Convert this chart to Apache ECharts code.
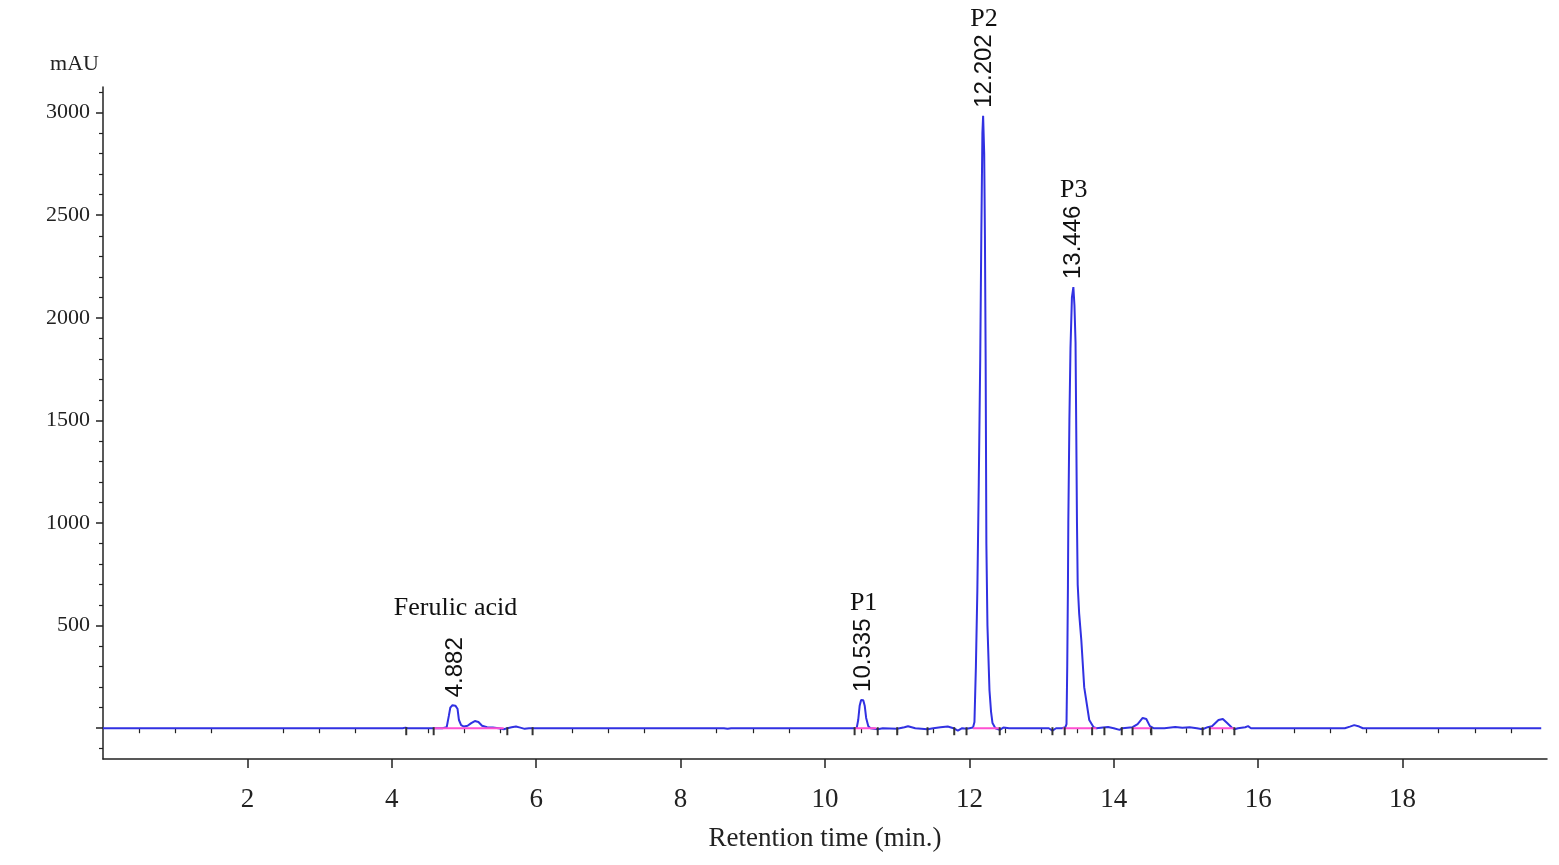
<!DOCTYPE html>
<html>
<head>
    <meta charset="utf-8">
    <title>HPLC chromatogram</title>
    <script src="https://cdn.jsdelivr.net/npm/echarts@6/dist/echarts.min.js"></script>
    <style>
        html, body { margin: 0; padding: 0; background: #fff; }
    </style>
</head>
<body>
    <div id="main" style="width: 1559px;height:865px;"></div>

    <script type="text/javascript">
        // detector trace, [retention time (min), absorbance (mAU)]
        var trace = [
            [0, 0], [4.15, 0], [4.19, 3], [4.22, 0], [4.55, 0], [4.70, 0],
            [4.76, 5], [4.79, 60], [4.81, 100], [4.84, 112], [4.88, 110], [4.91, 95],
            [4.93, 40], [4.96, 15], [5.00, 8], [5.05, 12], [5.10, 25], [5.15, 35],
            [5.20, 30], [5.25, 12], [5.32, 5], [5.40, 3], [5.48, 0], [5.55, -5],
            [5.60, 0], [5.66, 5], [5.72, 8], [5.78, 3], [5.84, -3], [5.90, 0],
            [8.60, 0], [8.65, -3], [8.70, 0],
            [10.40, 0], [10.44, 3], [10.46, 40], [10.48, 110], [10.50, 138], [10.53, 136],
            [10.55, 110], [10.57, 50], [10.60, 10], [10.63, 0], [10.73, -5], [10.80, 0],
            [11.00, -3], [11.10, 5], [11.15, 10], [11.20, 5], [11.25, 0], [11.42, -5],
            [11.50, 0], [11.60, 5], [11.70, 8], [11.78, 0], [11.84, -12], [11.90, 0],
            [11.96, -3], [12.00, 0], [12.05, 3], [12.07, 30], [12.09, 300], [12.11, 670],
            [12.13, 1200], [12.15, 1800], [12.165, 2400], [12.18, 2900], [12.19, 2985],
            [12.205, 2800], [12.215, 2400], [12.225, 1800], [12.235, 900], [12.25, 500],
            [12.278, 185], [12.30, 80], [12.32, 25], [12.36, 0],
            [12.42, -8], [12.47, 3], [12.55, 0], [13.10, 0], [13.15, -12], [13.20, 0],
            [13.28, 0], [13.33, 5], [13.345, 20], [13.355, 300], [13.365, 700], [13.37, 1000],
            [13.385, 1500], [13.40, 1850], [13.42, 2100], [13.44, 2150], [13.455, 2060],
            [13.47, 1880], [13.48, 1450], [13.49, 1000], [13.50, 700], [13.52, 560],
            [13.55, 430], [13.59, 200], [13.66, 40], [13.72, 5], [13.76, 0], [13.78, 6],
            [13.85, 4], [13.92, 6], [14.00, 0],
            [14.08, -8], [14.12, 0], [14.26, 5], [14.33, 20], [14.40, 50], [14.45, 45],
            [14.50, 10], [14.55, 0], [14.70, 0], [14.85, 6], [14.95, 2], [15.05, 5],
            [15.15, 0], [15.23, -5], [15.30, 5], [15.36, 10], [15.45, 40], [15.51, 45],
            [15.57, 25], [15.63, 5], [15.67, -5], [15.72, 0], [15.82, 5], [15.86, 10],
            [15.90, 0], [17.20, 0], [17.27, 8], [17.33, 15], [17.40, 8], [17.45, 0],
            [19.92, 0]
        ];

        // labelled peaks: retention time, apex height, name
        var peakTimes = [4.882, 10.535, 12.202, 13.446];
        var peakHeights = [112, 138, 2985, 2150];
        var peakNames = ['Ferulic acid', 'P1', 'P2', 'P3'];

        // integration baselines (start, end) and event marks
        var baselineSegs = [[4.58, 5.55], [10.41, 10.71], [12.05, 12.42], [13.29, 13.76], [14.26, 14.52], [15.33, 15.67]];
        var eventTimes = [4.20, 4.58, 5.60, 5.95, 10.41, 10.73, 11.00, 11.42, 11.79, 11.96, 12.42,
            13.15, 13.32, 13.70, 13.87, 14.11, 14.26, 14.52, 15.23, 15.33, 15.67];

        // axis ticks
        var xMajor = [2, 4, 6, 8, 10, 12, 14, 16, 18];
        var xMinor = [0.5, 1, 1.5, 2.5, 3, 3.5, 4.5, 5, 5.5, 6.5, 7, 7.5, 8.5, 9, 9.5, 10.5, 11, 11.5,
            12.5, 13, 13.5, 14.5, 15, 15.5, 16.5, 17, 17.5, 18.5, 19, 19.5];
        var yLabels = [500, 1000, 1500, 2000, 2500, 3000];
        var yMajor = [0, 500, 1000, 1500, 2000, 2500, 3000];
        var yMinor = [-100, 100, 200, 300, 400, 600, 700, 800, 900, 1100, 1200, 1300, 1400,
            1600, 1700, 1800, 1900, 2100, 2200, 2300, 2400, 2600, 2700, 2800, 2900, 3100];

        var myChart = echarts.init(document.getElementById('main'));

        var axisColor = '#222';
        var serif = 'Liberation Serif';

        var peakPoints = peakTimes.map(function (t, i) {
            return [t, peakHeights[i], peakNames[i]];
        });

        var baseData = [];
        baselineSegs.forEach(function (s) {
            baseData.push([s[0], 0], [s[1], 0], [s[1], '-']);
        });

        var option = {
            backgroundColor: '#fff',
            animation: false,
            grid: { left: 103, right: 12, top: 87, bottom: 106 },
            xAxis: [{
                type: 'value',
                min: 0,
                max: 20,
                position: 'bottom',
                axisLine: { onZero: false, lineStyle: { color: axisColor, width: 1.5 } },
                axisTick: { customValues: xMajor, length: 9, lineStyle: { color: axisColor, width: 1.5 } },
                axisLabel: { customValues: xMajor, margin: 27, color: '#222', fontFamily: serif, fontSize: 27 },
                splitLine: { show: false },
                name: 'Retention time (min.)',
                nameLocation: 'middle',
                nameGap: 66,
                nameTextStyle: { color: '#222', fontFamily: serif, fontSize: 27 }
            }, {
                type: 'value',
                min: 0,
                max: 20,
                position: 'bottom',
                offset: 0,
                axisLine: { show: false },
                axisTick: { customValues: xMinor, length: 5, lineStyle: { color: axisColor, width: 1.2 } },
                axisLabel: { show: false },
                splitLine: { show: false }
            }],
            yAxis: [{
                type: 'value',
                min: -150,
                max: 3125,
                position: 'left',
                axisLine: { show: true, onZero: false, lineStyle: { color: axisColor, width: 1.5 } },
                axisTick: { show: true, customValues: yMajor, length: 7, lineStyle: { color: axisColor, width: 1.5 } },
                axisLabel: {
                    customValues: yLabels,
                    margin: 13,
                    color: '#222',
                    fontFamily: serif,
                    fontSize: 22,
                    formatter: function (v) { return String(v); }
                },
                splitLine: { show: false },
                name: 'mAU',
                nameLocation: 'end',
                nameGap: 12,
                nameTextStyle: { color: '#222', fontFamily: serif, fontSize: 22, align: 'right', verticalAlign: 'bottom', padding: [0, 4, 0, 0] }
            }, {
                type: 'value',
                min: -150,
                max: 3125,
                position: 'left',
                offset: 0,
                axisLine: { show: false },
                axisTick: { show: true, customValues: yMinor, length: 4, lineStyle: { color: axisColor, width: 1.2 } },
                axisLabel: { show: false },
                splitLine: { show: false }
            }],
            series: [{
                name: 'trace',
                type: 'line',
                data: trace,
                showSymbol: false,
                lineStyle: { color: '#3131e2', width: 2 },
                z: 3
            }, {
                name: 'baseline',
                type: 'line',
                data: baseData,
                showSymbol: false,
                connectNulls: false,
                lineStyle: { color: '#ff50d2', width: 2 },
                z: 4
            }, {
                name: 'events',
                type: 'scatter',
                data: eventTimes.map(function (t) { return [t, 0]; }),
                symbol: 'rect',
                symbolSize: [2, 8],
                symbolOffset: [0, 3],
                itemStyle: { color: '#333', opacity: 1 },
                z: 5
            }, {
                name: 'rt',
                type: 'scatter',
                data: peakPoints,
                symbolSize: 0,
                itemStyle: { opacity: 1 },
                label: {
                    show: true,
                    position: 'top',
                    distance: 8,
                    rotate: 90,
                    align: 'left',
                    verticalAlign: 'middle',
                    formatter: function (p) { return p.value[0].toFixed(3); },
                    color: '#111',
                    fontFamily: 'Liberation Sans',
                    fontSize: 24
                },
                z: 6
            }, {
                name: 'peakName',
                type: 'scatter',
                data: peakPoints,
                symbolSize: 0,
                itemStyle: { opacity: 1 },
                label: {
                    show: true,
                    position: 'top',
                    distance: 84,
                    formatter: function (p) { return p.value[2]; },
                    color: '#111',
                    fontFamily: serif,
                    fontSize: 26
                },
                z: 6
            }]
        };

        myChart.setOption(option);
    </script>
</body>
</html>
